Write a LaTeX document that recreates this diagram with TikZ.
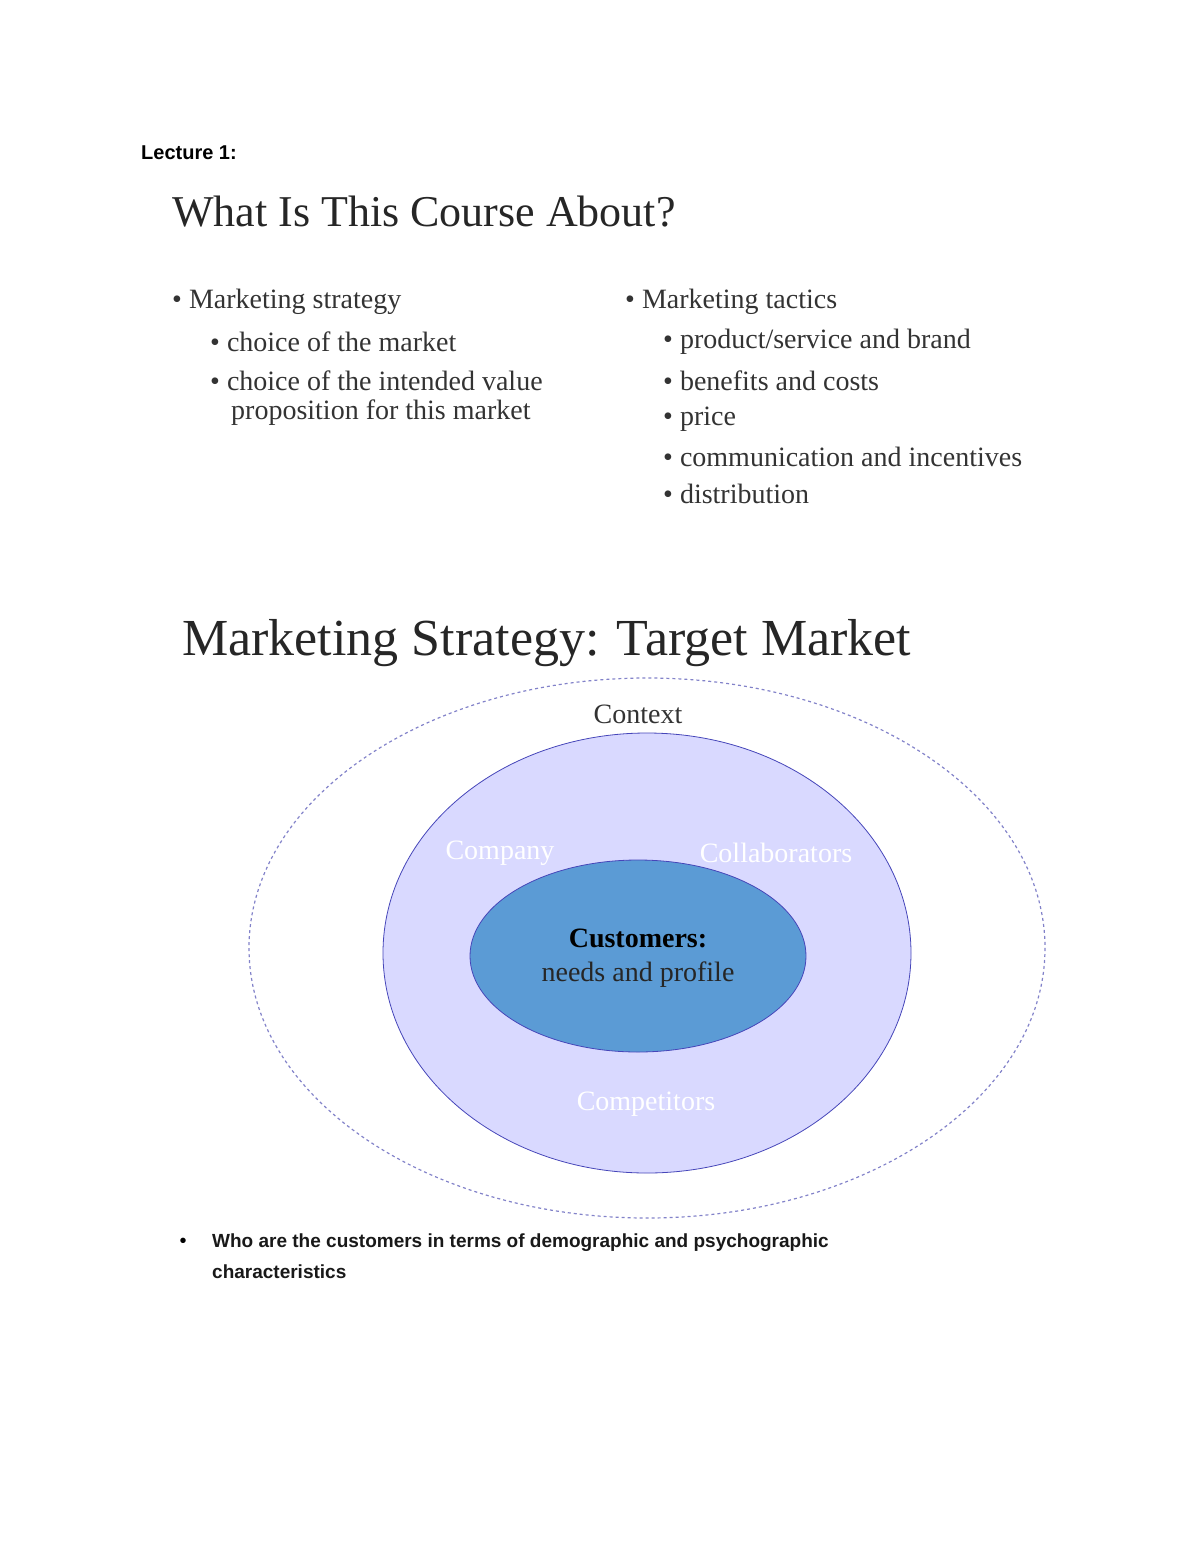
\documentclass[tikz,border=0pt]{standalone}
\usepackage{fontspec}
\setmainfont{Liberation Serif}
\newfontfamily\arial{Liberation Sans}
\begin{document}
\begin{tikzpicture}[x=1pt,y=-1pt]
\useasboundingbox (0,0) rectangle (1200,1553);
\tikzset{txt/.style={anchor=west,inner sep=0pt,font=\fontsize{28}{30}\selectfont,text=black!80},
 wl/.style={font=\fontsize{28}{30}\selectfont,text=white,inner sep=0pt}}
\node[anchor=west,inner sep=0pt,font=\arial\bfseries\fontsize{20}{22}\selectfont] (lec) at (141,153) {Lecture 1:};
\node[anchor=west,inner sep=0pt,font=\fontsize{44}{46}\selectfont,text=black!85] (t1) at (172,212) {What Is This Course About?};
\node[txt] (a) at (172,302) {• Marketing strategy};
\node[txt] (a1) at (210,342) {• choice of the market};
\node[txt] (a2) at (210,381) {• choice of the intended value};
\node[txt] (a3) at (231,413) {proposition for this market};
\node[txt] (b) at (625,302) {• Marketing tactics};
\node[txt] (b1) at (663,342) {• product/service and brand};
\node[txt] (b2) at (663,381) {• benefits and costs};
\node[txt] (b3) at (663,419) {• price};
\node[txt] (b4) at (663,457) {• communication and incentives};
\node[txt] (b5) at (663,494) {• distribution};
\node[anchor=west,inner sep=0pt,font=\fontsize{52}{54}\selectfont,text=black!85] (t2) at (182,643) {Marketing Strategy: Target Market};
\draw[dashed,draw=blue!40!gray!70,line width=1.2] (647,948) ellipse [x radius=398,y radius=270];
\draw[fill=blue!15!white,draw=blue!45!gray,line width=0.8] (647,953) ellipse [x radius=264,y radius=220];
\draw[fill={rgb,255:red,91;green,155;blue,213},draw=blue!45!gray,line width=0.8] (638,956) ellipse [x radius=168,y radius=96];
\node[txt,anchor=center] (ctx) at (638,714) {Context};
\node[wl] (co) at (500,853) {Company};
\node[wl] (cl) at (776,853) {Collaborators};
\node[wl] (cp) at (646,1104) {Competitors};
\node[font=\bfseries\fontsize{28}{30}\selectfont,inner sep=0pt] (cu) at (638,938) {Customers:};
\node[font=\fontsize{28}{30}\selectfont,inner sep=0pt,text=black!85] (np) at (638,975) {needs and profile};
\node[inner sep=0pt,font=\arial\fontsize{20}{22}\selectfont] (bl) at (183,1243) {•};
\node[anchor=west,inner sep=0pt,font=\arial\bfseries\fontsize{19}{22}\selectfont,text=black!90] (q1) at (212,1243) {Who are the customers in terms of demographic and psychographic};
\node[anchor=west,inner sep=0pt,font=\arial\bfseries\fontsize{19}{22}\selectfont,text=black!90] (q2) at (212,1272) {characteristics};
\end{tikzpicture}
\end{document}
